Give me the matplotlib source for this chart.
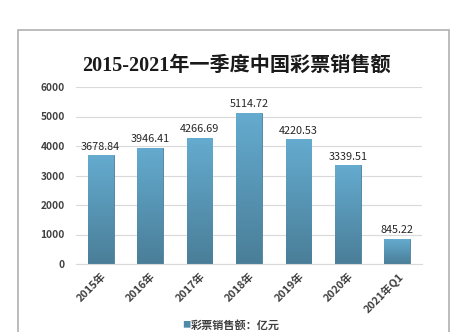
import matplotlib.pyplot as plt
import numpy as np
from matplotlib.patches import Rectangle

plt.rcParams['font.family'] = ['Noto Sans CJK SC', 'DejaVu Sans']

years = ['2015年', '2016年', '2017年', '2018年', '2019年', '2020年', '2021年Q1']
sales = [3678.84, 3946.41, 4266.69, 5114.72, 4220.53, 3339.51, 845.22]
yticks = [0, 1000, 2000, 3000, 4000, 5000, 6000]

fig = plt.figure(figsize=(4.71, 3.32), dpi=100)

# outer chart frame
fig.patches.append(Rectangle((18 / 471, -0.05), (449 - 18) / 471, 1.05 - 30 / 332,
                             transform=fig.transFigure, fill=False,
                             edgecolor='#b0b0b0', linewidth=1.2))

ax = fig.add_axes([76 / 471, 1 - 264 / 332, (422 - 76) / 471, (264 - 87) / 332])

x = np.arange(len(years))
bars = ax.bar(x, sales, width=0.52, color='#5a9cbd', edgecolor='#4a7f99',
              linewidth=0.6, zorder=2)

# vertical shading inside each bar
grad = np.linspace(0, 1, 100).reshape(-1, 1)
cmap = plt.matplotlib.colors.LinearSegmentedColormap.from_list(
    'bar', ['#4a7e98', '#64abcf'])
for b in bars:
    im = ax.imshow(grad, extent=[b.get_x(), b.get_x() + b.get_width(), 0, b.get_height()],
                   origin='lower', aspect='auto', cmap=cmap, zorder=2.1)
    im.set_clip_path(b)

for xi, v in zip(x, sales):
    ax.text(xi, v + 130, f'{v:.2f}', ha='center', va='bottom', fontsize=7.8,
            color='#262626')

ax.set_xlim(-0.5, 6.5)
ax.set_ylim(0, 6000)
ax.set_yticks(yticks)
ax.set_yticklabels([str(t) for t in yticks], fontsize=7.3, fontweight='bold', color='#404040')
ax.set_xticks(x)
ax.set_xticklabels(years, rotation=45, ha='right', rotation_mode='anchor',
                   fontsize=7.8, fontweight='bold', color='#404040')
ax.tick_params(axis='y', length=0, pad=8)
ax.tick_params(axis='x', length=0, pad=5)
ax.grid(axis='y', color='#d9d9d9', linewidth=0.8, zorder=0)
for s in ax.spines.values():
    s.set_visible(False)
ax.spines['bottom'].set_visible(True)
ax.spines['bottom'].set_color('#d9d9d9')

fig.text(236 / 471, 1 - 66 / 332, '2015-2021年一季度中国彩票销售额',
         ha='center', va='center', fontsize=14.5, color='#1a1a1a', fontweight='bold',
         family=['Liberation Serif', 'Noto Sans CJK SC'])

# legend
fig.text(186 / 471, 1 - 325 / 332, '■', ha='center', va='center', fontsize=6, color='#4f8aa8')
fig.text(191 / 471, 1 - 325 / 332, '彩票销售额：亿元', ha='left', va='center',
         fontsize=8, fontweight='bold', color='#404040')

fig.savefig('out.png', dpi=100)
